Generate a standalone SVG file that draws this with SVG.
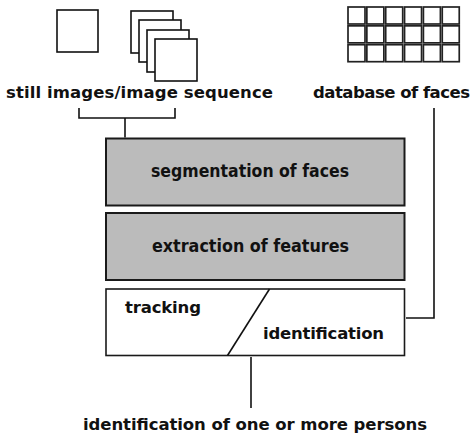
<svg xmlns="http://www.w3.org/2000/svg" width="474" height="443" viewBox="0 0 474 443">
<style>
  .lbl { font-family: "DejaVu Sans", "Liberation Sans", sans-serif; font-weight: bold; font-size: 16.5px; fill: #111; }
  .big { font-size: 17.5px; }
  .img { fill: #fff; stroke: #111; stroke-width: 1.6; }
  .cell { fill: #fff; stroke: #222; stroke-width: 1.7; }
  .gbox { fill: #bbbbbb; stroke: #1a1a1a; stroke-width: 2; }
  .wbox { fill: #fff; stroke: #1a1a1a; stroke-width: 1.6; }
  .conn { fill: none; stroke: #111; stroke-width: 1.6; }
</style>
<rect width="474" height="443" fill="#fff"/>

<g id="still-images">
  <rect class="img" x="57" y="10" width="41" height="42"/>
  <rect class="img" x="131" y="11" width="42" height="42"/>
  <rect class="img" x="139" y="20" width="42" height="42"/>
  <rect class="img" x="147" y="30" width="42" height="42"/>
  <rect class="img" x="155" y="39" width="42" height="42"/>
  <text class="lbl" x="6" y="98" textLength="267">still images/image sequence</text>
</g>

<g id="database">
  <rect class="cell" x="348" y="7" width="17" height="17"/>
  <rect class="cell" x="366.85" y="7" width="17" height="17"/>
  <rect class="cell" x="385.7" y="7" width="17" height="17"/>
  <rect class="cell" x="404.55" y="7" width="17" height="17"/>
  <rect class="cell" x="423.4" y="7" width="17" height="17"/>
  <rect class="cell" x="442.25" y="7" width="17" height="17"/>
  <rect class="cell" x="348" y="25.85" width="17" height="17"/>
  <rect class="cell" x="366.85" y="25.85" width="17" height="17"/>
  <rect class="cell" x="385.7" y="25.85" width="17" height="17"/>
  <rect class="cell" x="404.55" y="25.85" width="17" height="17"/>
  <rect class="cell" x="423.4" y="25.85" width="17" height="17"/>
  <rect class="cell" x="442.25" y="25.85" width="17" height="17"/>
  <rect class="cell" x="348" y="44.7" width="17" height="17"/>
  <rect class="cell" x="366.85" y="44.7" width="17" height="17"/>
  <rect class="cell" x="385.7" y="44.7" width="17" height="17"/>
  <rect class="cell" x="404.55" y="44.7" width="17" height="17"/>
  <rect class="cell" x="423.4" y="44.7" width="17" height="17"/>
  <rect class="cell" x="442.25" y="44.7" width="17" height="17"/>
  <text class="lbl" x="313" y="98" textLength="157">database of faces</text>
</g>

<g id="segmentation">
  <rect class="gbox" x="106" y="138.5" width="298.5" height="67"/>
  <text class="lbl big" x="151" y="177" textLength="198" lengthAdjust="spacingAndGlyphs">segmentation of faces</text>
</g>

<g id="extraction">
  <rect class="gbox" x="106" y="213" width="298.5" height="67"/>
  <text class="lbl big" x="152" y="252" textLength="197" lengthAdjust="spacingAndGlyphs">extraction of features</text>
</g>

<g id="tracking-identification">
  <rect class="wbox" x="106" y="289" width="298.5" height="66.5"/>
  <path class="conn" d="M269.5,289 L227.5,355.5"/>
  <text class="lbl" x="125" y="312.5" textLength="76">tracking</text>
  <text class="lbl" x="263" y="339" textLength="121">identification</text>
</g>

<g id="result">
  <text class="lbl" x="83" y="430" textLength="344">identification of one or more persons</text>
</g>

<g id="connectors">
  <path class="conn" d="M79,108 V118 H175 V108"/>
  <path class="conn" d="M125,118 V137.5"/>
  <path class="conn" d="M434,108 V318 H406"/>
  <path class="conn" d="M251,357 V408"/>
</g>
</svg>
